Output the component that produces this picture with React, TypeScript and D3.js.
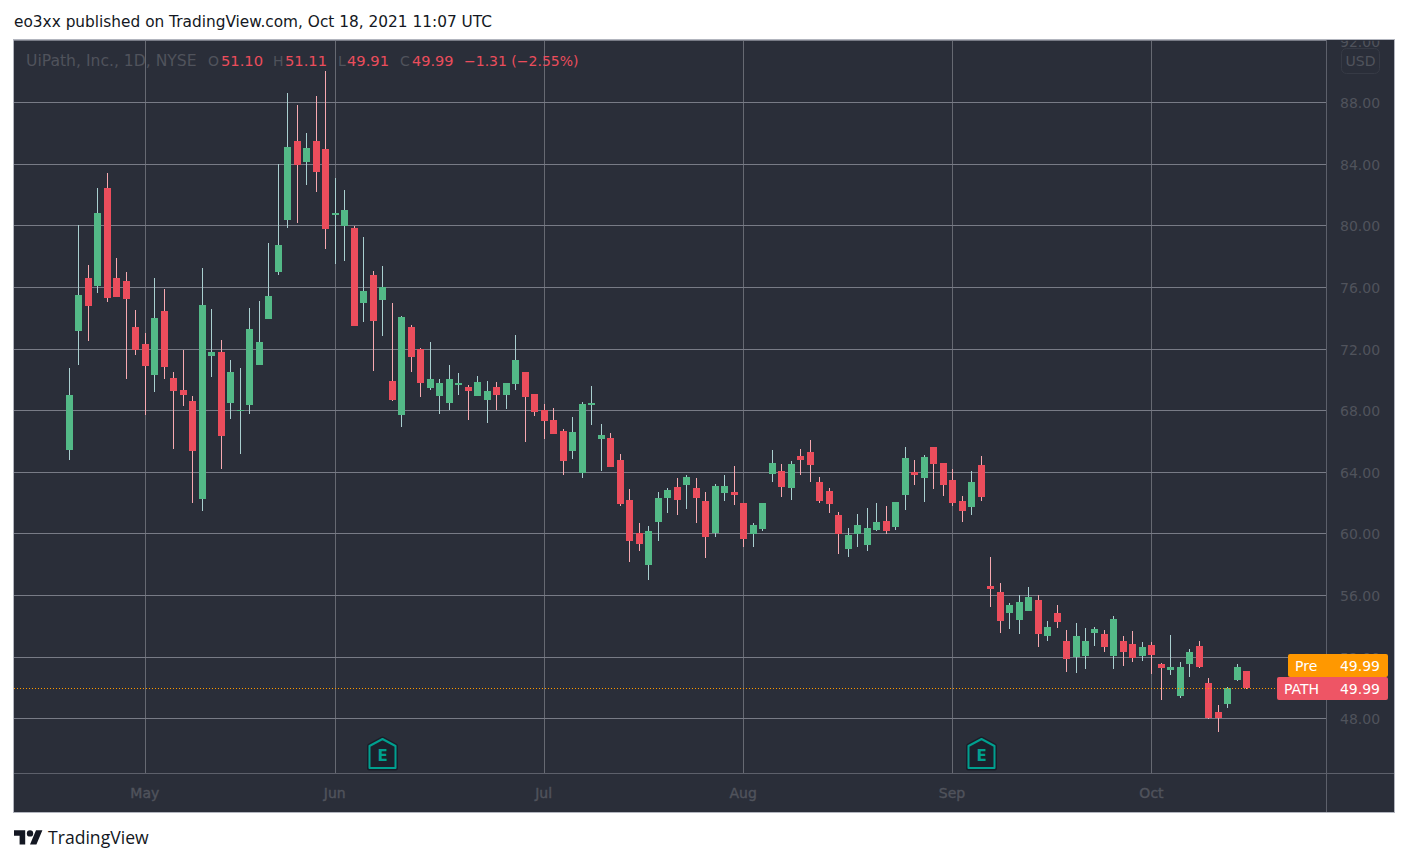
import React, { useRef, useEffect } from 'react';
import * as d3 from 'd3';

// trading days (index 0 = Apr 21)
const opens = [
  65.43, 73.16, 76.6, 76.08, 82.45, 76.6, 76.41, 73.42, 72.32, 70.3, 74.46, 70.11, 69.33, 68.62, 62.25, 71.54, 71.8, 68.49, 67.99, 68.36,
  70.95, 73.94, 77.0, 80.37, 85.5, 84.14, 85.5, 84.98, 80.69, 79.98, 79.85, 74.98, 76.79, 75.17, 69.92, 67.71, 73.43, 71.98, 69.47, 68.95,
  68.49, 69.66, 69.53, 68.95, 68.69, 69.53, 69.01, 69.73, 70.5, 69.08, 68.04, 67.39, 66.67, 65.37, 63.95, 68.36, 66.15, 66.22, 64.79, 62.19,
  60.04, 57.96, 60.76, 62.31, 63.03, 63.16, 62.96, 62.12, 60.02, 62.64, 62.7, 61.99, 59.98, 60.3, 63.87, 64.07, 62.96, 65.04, 65.3, 63.35,
  62.77, 61.21, 59.0, 59.98, 59.26, 60.24, 60.82, 60.43, 62.51, 64.0, 63.61, 65.63, 64.59, 63.48, 62.12, 61.73, 64.46, 56.6, 56.21, 54.85,
  54.39, 54.98, 55.69, 53.36, 54.85, 53.03, 51.99, 52.06, 53.55, 53.49, 52.06, 53.03, 52.84, 52.06, 52.77, 51.54, 51.15, 49.46, 51.54, 52.71,
  50.3, 48.42, 48.94, 50.5, 51.1,
];
const highs = [
  70.76, 80.02, 77.45, 82.45, 83.42, 77.9, 76.99, 74.53, 73.03, 76.6, 75.89, 70.5, 71.93, 68.94, 77.25, 74.59, 72.58, 71.28, 70.76, 74.65,
  75.11, 78.88, 84.01, 88.62, 87.84, 86.02, 88.42, 90.04, 83.1, 82.32, 79.98, 79.26, 77.05, 77.38, 74.98, 74.14, 73.56, 72.06, 72.45, 70.05,
  70.96, 70.44, 69.66, 70.24, 69.92, 69.85, 69.79, 72.91, 70.5, 69.08, 68.43, 68.17, 66.8, 67.58, 68.56, 69.6, 67.13, 66.54, 65.18, 62.91,
  60.69, 60.5, 62.7, 62.96, 63.61, 63.81, 63.61, 62.7, 63.22, 63.81, 64.39, 61.99, 60.69, 61.99, 65.43, 64.52, 64.72, 65.5, 66.08, 63.68,
  62.96, 61.41, 60.37, 61.28, 61.66, 61.99, 61.8, 62.05, 65.63, 64.78, 65.11, 65.63, 64.59, 64.2, 62.44, 64.07, 65.04, 58.49, 56.8, 55.5,
  56.02, 56.54, 56.02, 54.33, 55.37, 53.75, 54.2, 53.87, 53.94, 53.75, 54.65, 53.36, 53.68, 52.97, 52.97, 51.6, 53.42, 51.67, 52.51, 53.03,
  50.63, 48.87, 50.04, 51.54, 51.11,
];
const lows = [
  64.78, 70.95, 72.51, 75.63, 75.04, 75.37, 70.04, 71.6, 67.71, 69.2, 70.04, 65.5, 68.29, 62.0, 61.47, 70.17, 64.2, 67.45, 65.17, 67.77,
  70.95, 73.94, 76.8, 79.85, 80.17, 82.64, 82.19, 78.49, 77.51, 77.71, 73.48, 73.74, 70.57, 72.84, 68.62, 66.93, 70.5, 68.88, 69.34, 67.78,
  68.04, 69.01, 67.39, 68.95, 67.19, 68.04, 68.1, 69.34, 65.96, 67.65, 66.15, 66.48, 63.82, 64.85, 63.62, 67.06, 64.08, 64.34, 61.8, 58.17,
  58.87, 56.99, 59.52, 61.34, 61.21, 61.6, 60.69, 58.42, 59.78, 62.12, 61.86, 59.13, 59.13, 60.17, 63.35, 62.38, 62.18, 63.81, 63.35, 61.99,
  61.34, 58.68, 58.48, 59.13, 58.87, 60.17, 59.98, 60.24, 61.54, 63.16, 62.05, 62.9, 62.44, 61.8, 60.76, 61.21, 62.12, 55.24, 53.55, 53.81,
  53.49, 54.98, 52.64, 53.03, 53.87, 51.02, 50.95, 51.21, 52.71, 52.32, 51.21, 51.41, 51.67, 51.73, 50.89, 49.2, 50.82, 49.33, 50.69, 51.28,
  47.97, 47.12, 48.68, 50.43, 49.91,
];
const closes = [
  69.01, 75.5, 74.78, 80.82, 75.3, 75.37, 75.24, 71.93, 70.89, 74.0, 70.82, 69.27, 69.01, 65.37, 74.85, 71.8, 66.34, 70.5, 68.03, 73.29,
  72.45, 75.43, 78.75, 85.11, 83.94, 85.04, 83.49, 79.78, 80.82, 81.02, 73.48, 75.75, 73.81, 76.01, 68.69, 74.08, 71.48, 69.79, 70.05, 69.79,
  70.05, 69.79, 69.27, 69.85, 69.27, 69.01, 69.79, 71.28, 68.88, 67.91, 67.32, 66.48, 64.72, 66.61, 68.43, 68.49, 66.41, 64.34, 61.93, 59.53,
  59.33, 60.17, 62.31, 62.83, 62.18, 63.68, 62.31, 59.78, 63.09, 63.09, 62.51, 59.65, 60.56, 61.99, 64.59, 63.03, 64.52, 64.78, 64.46, 62.12,
  61.92, 59.98, 59.91, 60.56, 60.37, 60.76, 60.17, 62.05, 64.91, 63.81, 64.98, 64.52, 63.16, 61.99, 61.47, 63.35, 62.38, 56.41, 54.33, 55.37,
  55.56, 55.89, 53.49, 53.94, 54.26, 51.86, 53.36, 53.03, 53.81, 52.64, 54.46, 52.32, 51.93, 52.64, 52.12, 51.28, 51.34, 51.34, 52.32, 51.34,
  48.03, 48.03, 49.98, 51.34, 49.99,
];

const priceTicks = [92, 88, 84, 80, 76, 72, 68, 64, 60, 56, 52, 48];
const monthLabels = ['May', 'Jun', 'Jul', 'Aug', 'Sep', 'Oct'];
const monthBars = [8, 28, 50, 71, 93, 114];
const earningsBars = [33, 96];
const lastPrice = 49.99;

const UP = '#53b987';
const DOWN = '#eb4d5c';
const UP_WICK = '#a9cfd0';
const DOWN_WICK = '#f7a9b0';
const BG = '#2a2e39';
const DIM = '#50535c';
const FONT = '"DejaVu Sans", sans-serif';

function App() {
  const svgRef = useRef<SVGSVGElement | null>(null);

  useEffect(() => {
    const svg = d3.select(svgRef.current);
    svg.selectAll('*').remove();

    const left = 14;
    const right = 1394;
    const top = 40;
    const bottom = 812;
    const paneRight = 1326;
    const paneBottom = 773;

    const x = d3.scaleLinear().domain([0, 124]).range([69.32, 1246.95]);
    const y = d3.scaleLinear().domain([48, 88]).range([718.5, 102.5]);
    const gridY = (p: number) => Math.round(y(p) - 0.4) + 0.5;
    const barX = (i: number) => Math.floor(x(i));

    svg.append('rect').attr('x', left - 0.5).attr('y', top - 0.5)
      .attr('width', right - left + 1).attr('height', bottom - top + 1)
      .attr('fill', BG).attr('stroke', '#b2b5be');

    const defs = svg.append('defs');
    defs.append('clipPath').attr('id', 'pane').append('rect')
      .attr('x', left).attr('y', top).attr('width', right - left).attr('height', bottom - top);

    // grid
    svg.append('g').selectAll('line').data(monthBars).join('line')
      .attr('x1', (d) => barX(d) + 0.5).attr('x2', (d) => barX(d) + 0.5)
      .attr('y1', top).attr('y2', paneBottom)
      .attr('stroke', '#666972');
    svg.append('g').selectAll('line').data(priceTicks).join('line')
      .attr('x1', left).attr('x2', paneRight)
      .attr('y1', gridY).attr('y2', gridY)
      .attr('stroke', '#787b86');

    // pane separators
    svg.append('line').attr('x1', left).attr('x2', right).attr('y1', paneBottom + 0.5).attr('y2', paneBottom + 0.5).attr('stroke', '#5d606b');
    svg.append('line').attr('x1', paneRight + 0.5).attr('x2', paneRight + 0.5).attr('y1', top).attr('y2', bottom).attr('stroke', '#5d606b');

    // candles
    const bars = d3.range(opens.length);
    const candles = svg.append('g').attr('clip-path', 'url(#pane)').attr('shape-rendering', 'crispEdges');
    candles.selectAll('.wick').data(bars).join('rect')
      .attr('class', 'wick')
      .attr('x', barX)
      .attr('width', 1)
      .attr('y', (i) => Math.round(y(highs[i])))
      .attr('height', (i) => Math.max(1, Math.round(y(lows[i])) - Math.round(y(highs[i]))))
      .attr('fill', (i) => (closes[i] >= opens[i] ? UP_WICK : DOWN_WICK));
    candles.selectAll('.body').data(bars).join('rect')
      .attr('class', 'body')
      .attr('x', (i) => barX(i) - 3)
      .attr('width', 7)
      .attr('y', (i) => Math.round(y(Math.max(opens[i], closes[i]))))
      .attr('height', (i) => Math.max(1, Math.round(y(Math.min(opens[i], closes[i]))) - Math.round(y(Math.max(opens[i], closes[i])))))
      .attr('fill', (i) => (closes[i] >= opens[i] ? UP : DOWN));

    // last price line
    svg.append('line').attr('x1', left).attr('x2', 1277)
      .attr('y1', 688.5).attr('y2', 688.5)
      .attr('stroke', '#ff9800').attr('stroke-dasharray', '1 2');

    // price axis
    const yAxis = d3.axisRight(y).tickValues(priceTicks).tickFormat(d3.format('.2f')).tickSize(0).tickPadding(14);
    const yG = svg.append('g').attr('transform', `translate(${paneRight},0.7)`).attr('clip-path', 'url(#axisClip)').call(yAxis);
    defs.append('clipPath').attr('id', 'axisClip').append('rect')
      .attr('x', 0).attr('y', top).attr('width', right - paneRight).attr('height', paneBottom - top);
    yG.select('.domain').remove();
    yG.selectAll('text').attr('font-family', FONT).attr('font-size', 14).attr('fill', DIM);

    // time axis
    const xAxis = d3.axisBottom(x).tickValues(monthBars).tickFormat((_, i) => monthLabels[i]).tickSize(0).tickPadding(15);
    const xG = svg.append('g').attr('transform', `translate(-1,${paneBottom})`).call(xAxis);
    xG.select('.domain').remove();
    xG.selectAll('text').attr('font-family', FONT).attr('font-size', 14).attr('fill', DIM)
      .attr('stroke', DIM).attr('stroke-width', 0.4);

    // USD box
    svg.append('rect').attr('x', 1341.5).attr('y', 48.5).attr('width', 38).attr('height', 25).attr('rx', 5)
      .attr('fill', 'none').attr('stroke', '#363a45');
    svg.append('text').attr('x', 1360.5).attr('y', 66).attr('text-anchor', 'middle')
      .attr('font-family', FONT).attr('font-size', 14).attr('fill', DIM).text('USD');

    // legend
    const legend: [string, number, string, number][] = [
      ['UiPath, Inc., 1D, NYSE', 26, DIM, 15.6],
      ['O', 208, DIM, 14], ['51.10', 221, DOWN, 14.7],
      ['H', 273, DIM, 14], ['51.11', 285, DOWN, 14.7],
      ['L', 338, DIM, 14], ['49.91', 347, DOWN, 14.7],
      ['C', 400, DIM, 14], ['49.99', 412, DOWN, 14.5],
      ['\u22121.31 (\u22122.55%)', 464, DOWN, 14],
    ];
    svg.append('g').selectAll('text').data(legend).join('text')
      .attr('x', (d) => d[1]).attr('y', 66)
      .attr('font-family', FONT).attr('font-size', (d) => d[3])
      .attr('fill', (d) => d[2]).text((d) => d[0]);

    // price labels
    const tags: [string, number, number, string, number][] = [
      ['Pre', 1288, 654, '#ff9800', 1295],
      ['PATH', 1277, 677, '#ee5565', 1284],
    ];
    tags.forEach(([name, tx, ty, color, textX]) => {
      svg.append('rect').attr('x', tx).attr('y', ty).attr('width', 1388 - tx).attr('height', 23).attr('rx', 2).attr('fill', color);
      svg.append('text').attr('x', textX).attr('y', ty + 16.5).attr('font-family', FONT).attr('font-size', 14).attr('fill', '#fff').text(name);
      svg.append('text').attr('x', 1380).attr('y', ty + 16.5).attr('text-anchor', 'end').attr('font-family', FONT).attr('font-size', 14).attr('fill', '#fff').text(lastPrice.toFixed(2));
    });

    // earnings markers
    const marker = svg.append('g').selectAll('g').data(earningsBars).join('g')
      .attr('transform', (d) => `translate(${barX(d) + 0.5},754)`);
    marker.append('path')
      .attr('d', 'M0,-15 L13,-8 V14 H-13 V-8 Z')
      .attr('fill', 'none').attr('stroke', '#1a1e29').attr('stroke-width', 5).attr('stroke-linejoin', 'round');
    marker.append('path')
      .attr('d', 'M0,-15 L13,-8 V14 H-13 V-8 Z')
      .attr('fill', '#1c212c').attr('stroke', '#00a08f').attr('stroke-width', 2).attr('stroke-linejoin', 'round');
    marker.append('text').attr('text-anchor', 'middle').attr('y', 6.5)
      .attr('font-family', FONT).attr('font-size', 15).attr('font-weight', 'bold').attr('fill', '#00a08f').text('E');

    // header and footer
    svg.append('text').attr('x', 14).attr('y', 27).attr('font-family', FONT).attr('font-size', 15.35).attr('fill', '#131722')
      .text('eo3xx published on TradingView.com, Oct 18, 2021 11:07 UTC');
    const logo = svg.append('g').attr('transform', 'translate(14,827) scale(0.8)').attr('fill', '#131722');
    logo.append('path').attr('d', 'M14 22H7V11H0V4h14v18zM28 22h-8l7.5-18h8L28 22z');
    logo.append('circle').attr('cx', 20).attr('cy', 8).attr('r', 4);
    svg.append('text').attr('x', 48).attr('y', 844).attr('font-family', '"Open Sans", sans-serif').attr('font-size', 17.6).attr('fill', '#131722').text('TradingView');
  }, []);

  return <svg ref={svgRef} width={1409} height={863} style={{ position: 'absolute', left: 0, top: 0, background: '#fff' }} />;
}

export default App;
